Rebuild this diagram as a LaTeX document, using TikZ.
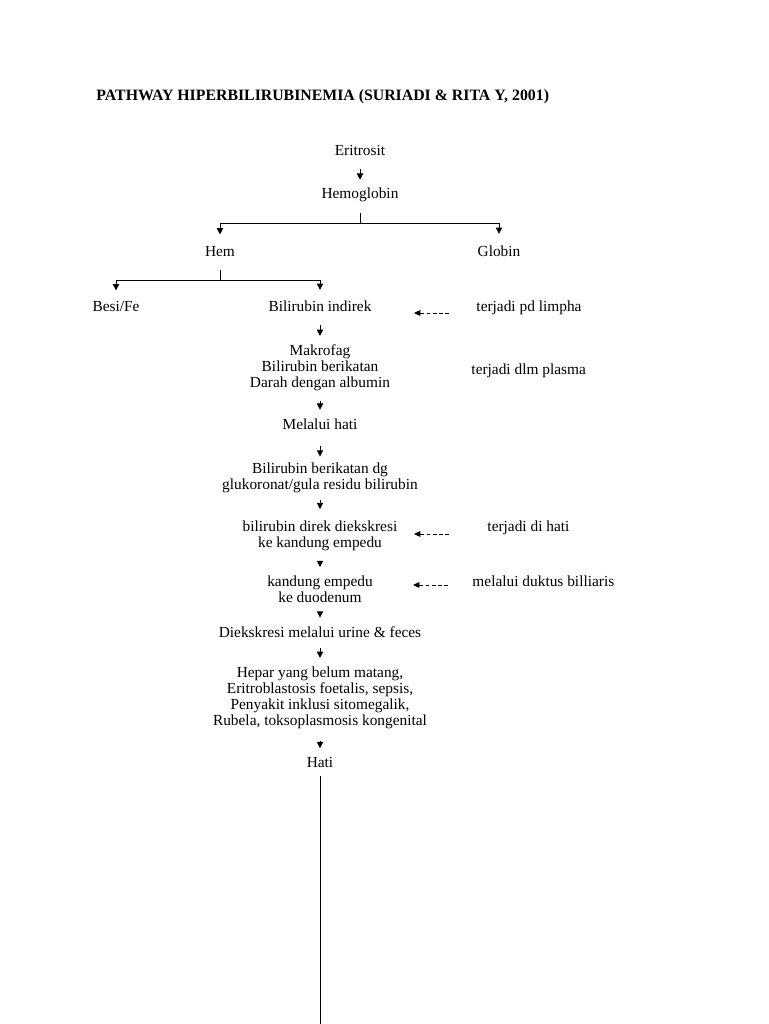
\documentclass[tikz,border=0pt]{standalone}
\usepackage{fontspec}
\setmainfont{Liberation Serif}
\usetikzlibrary{arrows.meta,positioning}

\tikzset{
  arr/.style={-{Triangle[length=5pt,width=5pt]}, shorten <=8pt, shorten >=6.5pt},
  dsh/.style={-{Triangle[length=5pt,width=4.5pt]}, dash pattern=on 3pt off 2pt},
  note/.style={anchor=base west},
  lbl/.style={anchor=base}
}

\begin{document}
\begin{tikzpicture}[x=0.8pt,y=-0.8pt,line width=0.75pt,
  font=\fontsize{12.3pt}{12.8pt}\selectfont,
  every node/.style={inner sep=0pt,align=center}]
\useasboundingbox (0,0) rectangle (768,1024);
\node (title) at (96,101) [anchor=base west,font=\fontsize{12.65pt}{13pt}\selectfont\bfseries] {PATHWAY HIPERBILIRUBINEMIA (SURIADI \& RITA Y, 2001)};

\node (eri) at (360,156) [lbl] {Eritrosit};
\node (hb) at (360,199) [lbl] {Hemoglobin};
\node (hem) at (220,257) [lbl] {Hem};
\node (glo) at (499,257) [lbl] {Globin};
\node (fe) at (116,311) [lbl] {Besi/Fe};
\node (bi) at (320,311) [lbl] {Bilirubin indirek};
\node (mak) at (320,367.5) {Makrofag\\Bilirubin berikatan\\Darah dengan albumin};
\node (mel) at (320,429) [lbl] {Melalui hati};
\node (glu) at (320,477.5) {Bilirubin berikatan dg\\glukoronat/gula residu bilirubin};
\node (dir) at (320,535.5) {bilirubin direk diekskresi\\ke kandung empedu};
\node (emp) at (320,589) {kandung empedu\\ke duodenum};
\node (eks) at (320,637) [lbl] {Diekskresi melalui urine \& feces};
\node (hep) at (320,697.5) {Hepar yang belum matang,\\Eritroblastosis foetalis, sepsis,\\Penyakit inklusi sitomegalik,\\Rubela, toksoplasmosis kongenital};
\node (hati) at (320,767) [lbl] {Hati};

% keterangan
\node (limpha) at (476,311) [note] {terjadi pd limpha};
\node (plasma) at (471,374) [note] {terjadi dlm plasma};
\node (dihati) at (487,531) [note] {terjadi di hati};
\node (duktus) at (472,586) [note] {melalui duktus billiaris};

\coordinate (j1) at (360,223);
\coordinate (j2) at (220,280);
\coordinate (bawah) at (320,1024);

\draw[shorten <=8pt] (hb) -- (j1);
\draw[arr,shorten <=0pt,shorten >=9.6pt] (j1) -| (hem);
\draw[arr,shorten <=0pt,shorten >=9.6pt] (j1) -| (glo);
\draw[shorten <=9.6pt] (hem) -- (j2);
\draw[arr,shorten <=0pt,shorten >=8pt] (j2) -| (fe);
\draw[arr,shorten <=0pt,shorten >=8pt] (j2) -| (bi);

\draw[arr,shorten <=9.6pt] (eri) -- (hb);
\draw[arr,shorten <=10.4pt] (bi) -- (mak);
\draw[arr] (mak) -- (mel);
\draw[arr,shorten <=12.8pt,shorten >=4.4pt] (mel) -- (glu);
\draw[arr,shorten <=5.6pt,shorten >=8.8pt] (glu) -- (dir);
\draw[arr] (dir) -- (emp);
\draw[arr] (emp) -- (eks);
\draw[arr] (eks) -- (hep);
\draw[arr,shorten <=9.6pt] (hep) -- (hati);
\draw[shorten <=6.4pt] (hati) -- (bawah);

% panah putus-putus
\coordinate (d1a) at (449,313);
\coordinate (d1b) at (414,313);
\coordinate (d2a) at (449,534);
\coordinate (d2b) at (414,534);
\coordinate (d3a) at (448,585);
\coordinate (d3b) at (413,585);
\draw[dsh] (d1a) -- (d1b);
\draw[dsh] (d2a) -- (d2b);
\draw[dsh] (d3a) -- (d3b);
\end{tikzpicture}
\end{document}
